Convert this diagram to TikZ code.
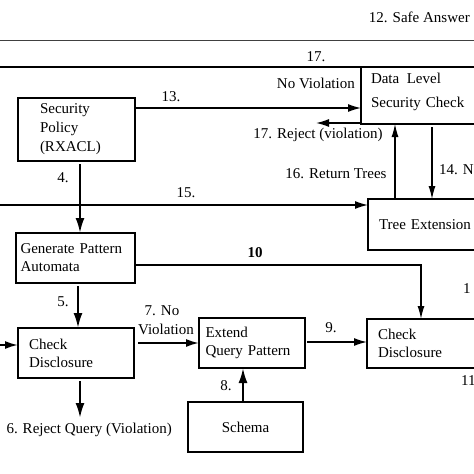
\documentclass[tikz,border=0pt]{standalone}
\usepackage{fontspec}
\setmainfont{Liberation Serif}
\usetikzlibrary{arrows.meta,calc}
\begin{document}
\begin{tikzpicture}[x=1pt,y=-1pt,
  box/.style={draw, line width=1.4pt, anchor=north west, align=left, inner ysep=0pt, outer sep=0pt,
    minimum width=0pt, font=\fontsize{15}{18}\selectfont},
  lbl/.style={font=\fontsize{15}{18}\selectfont, inner sep=0pt},
  arr/.style={-{Latex[length=13pt,width=8pt]}, line width=1.4pt},
  thk/.style={-{Latex[length=15pt,width=9pt]}, line width=2.2pt},
  thn/.style={-{Latex[length=13pt,width=7pt]}, line width=1.1pt},
]
\clip (0,0) rectangle (474,474);
\useasboundingbox (0,0) rectangle (474,474);

% boxes
\node[box, inner xsep=10pt, text width=110pt, minimum height=57pt, text depth=34pt] (dl) at (361,67) {Data\enspace Level\\[6pt]Security Check};
\node[box, inner xsep=22pt, text width=73pt, minimum height=63pt] (sp) at (18,98) {Security\\[1pt]Policy\\[1pt](RXACL)};
\node[box, inner xsep=11pt, text width=108pt, minimum height=51pt] (te) at (368,199) {Tree Extension};
\node[box, inner xsep=4.5pt, text width=110pt, minimum height=50pt] (gp) at (16,233) {Generate Pattern\\Automata};
\node[box, inner xsep=11pt, text width=94pt, minimum height=50pt] (cdl) at (18,328) {Check\\Disclosure};
\node[box, inner xsep=6.5pt, text width=93pt, minimum height=50pt] (eq) at (199,318) {Extend\\Query Pattern};
\node[box, align=center, inner xsep=0pt, text width=115pt, minimum height=50pt] (sc) at (188,402) {Schema};
\node[box, inner xsep=11pt, text width=108pt, minimum height=49pt] (cdr) at (367,319) {Check\\Disclosure};

% top line 12
\coordinate (t0) at (0,40);
\coordinate (t1) at (474,40);
\draw[line width=1pt, draw=black!75] (t0) -- (t1);
\node[lbl, anchor=east] (safe) at (470,17) {12. Safe Answer};

% 17 line
\coordinate (s17) at (0,67);
\draw[line width=1.4pt] (s17) -- (dl.north west);
\node[lbl] (l17) at (316,57) {17.};
\node[lbl, anchor=east] (nov) at (355,83) {No Violation};

% 13
\coordinate (a13) at ($(sp.north east)+(0,10)$);
\draw[arr] (a13) -- (a13 -| dl.west);
\node[lbl] (l13) at (171,97) {13.};

% 17 reject
\coordinate (r17) at ($(dl.south west)+(0,-1)$);
\coordinate (r17e) at (316,123);
\draw[arr] (r17) -- (r17e);
\node[lbl] (l17r) at (318,135) {17. Reject (violation)};

% 16 and 14
\coordinate (c16) at ($(te.north west)+(27,0)$);
\draw[thn] (c16) -- (c16 |- dl.south);
\node[lbl] (l16) at (336,174) {16. Return Trees};
\coordinate (c14) at ($(dl.south west)+(71,3)$);
\draw[thn] (c14) -- (c14 |- te.north);
\node[lbl, anchor=west] (l14) at (439,169) {14. No Violation};

% 15
\coordinate (s15) at (0,205);
\draw[arr] (s15) -- (s15 -| te.west);
\node[lbl] (l15) at (186,193) {15.};

% 4
\coordinate (c4) at ($(sp.south west)+(62,3)$);
\draw[thk] (c4) -- (c4 |- gp.north);
\node[lbl] (l4) at (63,178) {4.};

% 10
\coordinate (c10) at ($(gp.north east)+(0,32)$);
\coordinate (x10) at ($(cdr.north west)+(54,0)$);
\draw[thn, line width=1.3pt] (c10) -| (x10);
\node[lbl, font=\fontsize{15}{18}\selectfont\bfseries] (l10) at (255,253) {10};

% 5
\coordinate (c5) at ($(gp.south west)+(62,3)$);
\draw[thk] (c5) -- (c5 |- cdl.north);
\node[lbl] (l5) at (63,302) {5.};

% input to check disclosure
\coordinate (in) at (0,345);
\draw[arr, line width=1.8pt] (in) -- (in -| cdl.west);

% 7
\coordinate (c7) at ($(cdl.north east)+(4,15)$);
\draw[arr, line width=1.8pt] (c7) -- (c7 -| eq.west);
\node[lbl] (l7a) at (162,311) {7. No};
\node[lbl] (l7b) at (166,329) {Violation};

% 6
\coordinate (c6) at ($(cdl.south west)+(62,3)$);
\coordinate (e6) at ($(c6)+(0,37)$);
\draw[thk] (c6) -- (e6);
\node[lbl, anchor=east] (l6) at (172,430) {6. Reject Query (Violation)};

% 8
\coordinate (c8) at ($(sc.north west)+(55,-1)$);
\draw[thk] (c8) -- (c8 |- eq.south);
\node[lbl] (l8) at (226,386) {8.};

% 9
\coordinate (c9) at ($(eq.north east)+(2,24)$);
\draw[arr] (c9) -- (c9 -| cdr.west);
\node[lbl] (l9) at (331,328) {9.};

% cut-off labels on the right
\node[lbl, anchor=west] (l11a) at (463,289) {1};
\node[lbl, anchor=west] (l11b) at (461,381) {11};
\end{tikzpicture}
\end{document}
